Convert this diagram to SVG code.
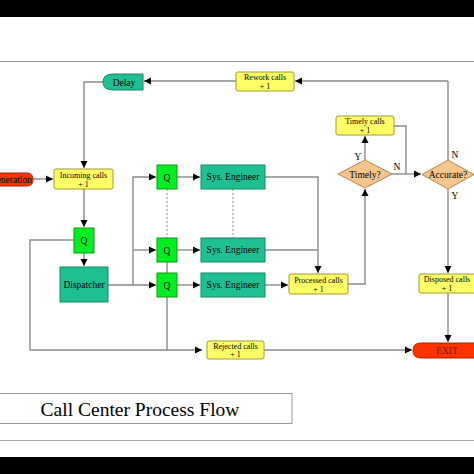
<svg xmlns="http://www.w3.org/2000/svg" width="474" height="474" viewBox="0 0 474 474">
<style>
.t{font-family:"Liberation Serif","Times New Roman",serif;fill:#000;text-anchor:middle}
.s{font-size:8px}
.m{font-size:9.5px}
.y{fill:#ffff66;stroke:#a09a30;stroke-width:1}
.g{fill:#00ee22;stroke:#119911;stroke-width:1}
.e{fill:#1fbf94;stroke:#158a68;stroke-width:1}
.d{fill:#f7c48c;stroke:#b08850;stroke-width:1}
.r{fill:#ff3300;stroke:#aa2200;stroke-width:1}
.c{fill:none;stroke:#8a8a8a;stroke-width:1.4}
.dot{fill:none;stroke:#888;stroke-width:1;stroke-dasharray:2,2}
</style>
<defs>
<marker id="a" markerWidth="8" markerHeight="8" refX="7" refY="4" orient="auto" markerUnits="userSpaceOnUse">
<path d="M0,0.5 L7,4 L0,7.5 Z" fill="#000"/>
</marker>
</defs>
<rect x="0" y="0" width="474" height="474" fill="#fff"/>
<rect x="0" y="0" width="474" height="17" fill="#000"/>
<rect x="0" y="457" width="474" height="17" fill="#000"/>
<line x1="0" y1="61.5" x2="474" y2="61.5" stroke="#999" stroke-width="1.2"/>
<line x1="0" y1="440.5" x2="474" y2="440.5" stroke="#aaa" stroke-width="1"/>

<g id="connectors">
<path class="c" d="M448,81 L448,160"/>
<path class="c" d="M448,81 L295,81" marker-end="url(#a)"/>
<path class="c" d="M236,81 L144,81" marker-end="url(#a)"/>
<path class="c" d="M103,82 L84,82 L84,168" marker-end="url(#a)"/>
<path class="c" d="M33,179 L53,179" marker-end="url(#a)"/>
<path class="c" d="M84,189 L84,227" marker-end="url(#a)"/>
<path class="c" d="M84,253 L84,266" marker-end="url(#a)"/>
<path class="c" d="M74,240 L30,240 L30,350 L202,350" marker-end="url(#a)"/>
<path class="c" d="M167,297 L167,350"/>
<path class="c" d="M167,262 L167,273"/>
<path class="c" d="M108,285 L156,285" marker-end="url(#a)"/>
<path class="c" d="M133,285 L133,177 L156,177" marker-end="url(#a)"/>
<path class="c" d="M133,250 L156,250" marker-end="url(#a)"/>
<path class="c" d="M177,177 L200,177" marker-end="url(#a)"/>
<path class="c" d="M177,250 L200,250" marker-end="url(#a)"/>
<path class="c" d="M177,285 L200,285" marker-end="url(#a)"/>
<path class="dot" d="M167,189 L167,238"/>
<path class="dot" d="M233,189 L233,238"/>
<path class="c" d="M265,177 L318,177 L318,273" marker-end="url(#a)"/>
<path class="c" d="M265,250 L318,250"/>
<path class="c" d="M265,285 L288,285" marker-end="url(#a)"/>
<path class="c" d="M348,284 L365,284 L365,189" marker-end="url(#a)"/>
<path class="c" d="M365,160 L365,136" marker-end="url(#a)"/>
<path class="c" d="M392,174 L421,174" marker-end="url(#a)"/>
<path class="c" d="M394,126 L406,126 L406,174"/>
<path class="c" d="M448,189 L448,273" marker-end="url(#a)"/>
<path class="c" d="M448,293 L448,342" marker-end="url(#a)"/>
<path class="c" d="M264,350 L412,350" marker-end="url(#a)"/>
</g>

<g id="delay">
<path class="e" d="M143,74 L143,90 L113,90 Q103,90 103,82 Q103,74 113,74 Z"/>
<text class="t m" x="124" y="85.5">Delay</text>
</g>
<g id="rework">
<rect class="y" x="236" y="72" width="58" height="19" rx="2"/>
<text class="t s" x="265" y="80">Rework  calls</text>
<text class="t s" x="265" y="89">+ 1</text>
</g>
<g id="generation">
<path class="r" d="M-10,173 L27,173 Q33,173 33,179.5 Q33,186 27,186 L-10,186 Z"/>
<text class="t m" x="32" y="182.5" style="text-anchor:end">Generation</text>
</g>
<g id="incoming">
<rect class="y" x="54" y="169" width="59" height="20" rx="2"/>
<text class="t s" x="83.5" y="177.5">Incoming calls</text>
<text class="t s" x="83.5" y="186.5">+ 1</text>
</g>
<g id="qdisp">
<rect class="g" x="74" y="228" width="20" height="25"/>
<text class="t m" x="84" y="244">Q</text>
</g>
<g id="dispatcher">
<rect class="e" x="60" y="267" width="48" height="35"/>
<text class="t m" x="84" y="288">Dispatcher</text>
</g>
<g id="q1">
<rect class="g" x="157" y="165" width="20" height="24"/>
<text class="t m" x="167" y="180.5">Q</text>
</g>
<g id="q2">
<rect class="g" x="157" y="238" width="20" height="24"/>
<text class="t m" x="167" y="253.5">Q</text>
</g>
<g id="q3">
<rect class="g" x="157" y="273" width="20" height="24"/>
<text class="t m" x="167" y="288.5">Q</text>
</g>
<g id="se1">
<rect class="e" x="201" y="165" width="64" height="24"/>
<text class="t m" x="233" y="180">Sys. Engineer</text>
</g>
<g id="se2">
<rect class="e" x="201" y="238" width="64" height="24"/>
<text class="t m" x="233" y="253">Sys. Engineer</text>
</g>
<g id="se3">
<rect class="e" x="201" y="273" width="64" height="24"/>
<text class="t m" x="233" y="288">Sys. Engineer</text>
</g>
<g id="processed">
<rect class="y" x="289" y="274" width="59" height="20" rx="2"/>
<text class="t s" x="318.5" y="282.5">Processed  calls</text>
<text class="t s" x="318.5" y="291.5">+ 1</text>
</g>
<g id="timelycalls">
<rect class="y" x="336" y="116" width="58" height="19" rx="2"/>
<text class="t s" x="365" y="124">Timely  calls</text>
<text class="t s" x="365" y="133">+ 1</text>
</g>
<g id="timely">
<path class="d" d="M365,160 L392,174 L365,188 L338,174 Z"/>
<text class="t m" x="365" y="177.5">Timely?</text>
<text class="t m" x="358" y="160">Y</text>
<text class="t m" x="397" y="170">N</text>
</g>
<g id="accurate">
<path class="d" d="M448,160 L474,174.5 L448,189 L422,174.5 Z"/>
<text class="t m" x="448" y="178">Accurate?</text>
<text class="t m" x="455" y="158">N</text>
<text class="t m" x="455" y="199">Y</text>
</g>
<g id="disposed">
<rect class="y" x="419" y="274" width="60" height="19" rx="2"/>
<text class="t s" x="447" y="282">Disposed  calls</text>
<text class="t s" x="447" y="291">+ 1</text>
</g>
<g id="rejected">
<rect class="y" x="207" y="341" width="57" height="18" rx="2"/>
<text class="t s" x="235.5" y="348.5">Rejected calls</text>
<text class="t s" x="235.5" y="357">+ 1</text>
</g>
<g id="exit">
<path class="r" d="M421,343 L480,343 L480,358 L421,358 Q413,358 413,350.5 Q413,343 421,343 Z"/>
<text class="t m" x="447" y="354" style="fill:#7a1a00">EXIT</text>
</g>
<g id="title">
<rect x="-1" y="393.5" width="293" height="30" fill="#fff" stroke="#999" stroke-width="1"/>
<text class="t" x="140" y="416" style="font-size:19.5px">Call Center Process Flow</text>
</g>
</svg>
